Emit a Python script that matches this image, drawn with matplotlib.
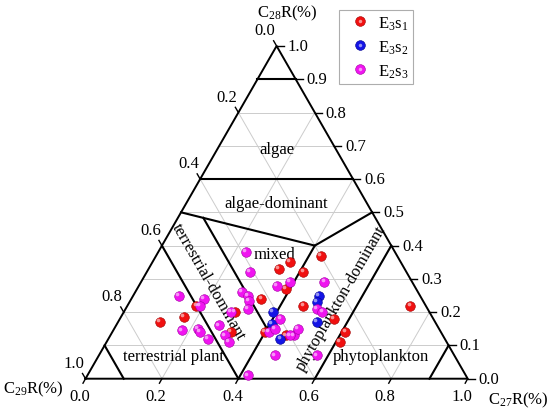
import numpy as np
import matplotlib.pyplot as plt
from matplotlib.lines import Line2D
from matplotlib.legend_handler import HandlerTuple
import matplotlib.transforms as mtransforms

plt.rcParams['font.family'] = ['Liberation Serif', 'DejaVu Serif']
plt.rcParams['mathtext.fontset'] = 'custom'
plt.rcParams['mathtext.rm'] = 'Liberation Serif'
plt.rcParams['mathtext.it'] = 'Liberation Serif:italic'

# sample compositions as fractions (C27, C28); C29 is the remainder
e3s1_c27 = [0.11, 0.165, 0.18, 0.29, 0.31, 0.34, 0.40, 0.36, 0.34, 0.41,
            0.39, 0.46, 0.46, 0.43, 0.56, 0.61, 0.61, 0.74]
e3s1_c28 = [0.17, 0.186, 0.22, 0.20, 0.14, 0.24, 0.14, 0.35, 0.33, 0.32,
            0.27, 0.22, 0.13, 0.37, 0.18, 0.14, 0.11, 0.22]

e3s2_c27 = [0.39, 0.405, 0.45, 0.485, 0.49, 0.52]
e3s2_c28 = [0.20, 0.164, 0.12, 0.25, 0.23, 0.17]

e2s3_c27 = [0.23, 0.27, 0.36, 0.39, 0.12, 0.19, 0.19, 0.28, 0.30, 0.31,
            0.32, 0.28, 0.18, 0.22, 0.23, 0.27, 0.26, 0.30, 0.32, 0.42,
            0.46, 0.41, 0.42, 0.42, 0.48, 0.47, 0.48, 0.48, 0.50, 0.52, 0.57]
e2s3_c28 = [0.38, 0.32, 0.28, 0.29, 0.25, 0.24, 0.22, 0.26, 0.25, 0.235,
            0.21, 0.20, 0.145, 0.15, 0.14, 0.16, 0.12, 0.13, 0.11, 0.01,
            0.07, 0.14, 0.15, 0.18, 0.13, 0.13, 0.15, 0.29, 0.21, 0.20, 0.07]

region_names = ['algae', 'algae-dominant', 'mixed', 'terrestrial-dominant',
                'phytoplankton-dominant', 'terrestrial plant', 'phytoplankton']
region_pos = [(0.155, 0.69), (0.234, 0.528), (0.306, 0.375), (0.176, 0.293),
              (0.545, 0.245), (0.195, 0.068), (0.739, 0.068)]
region_rot = [0, 0, 0, -60, 60, 0, 0]

H = np.sqrt(3) / 2
SX, SY = 382.2, 384.2  # pixels per data unit


def tern(c27, c28):
    c27 = np.asarray(c27, float)
    c28 = np.asarray(c28, float)
    return c27 + c28 / 2, c28 * H


def px(dx, dy):
    return dx / SX, dy / SY


fig = plt.figure(figsize=(5.5, 4.14), dpi=100)
ax = fig.add_axes([0, 0, 1, 1])
ax.set_xlim(-85.5 / SX, (550 - 85.5) / SX)
ax.set_ylim(-34.3 / SY, (414 - 34.3) / SY)
ax.axis('off')

grid_kw = dict(color='#cccccc', lw=0.7, zorder=1)
for v in np.arange(1, 10) / 10:
    x, y = tern([0, 1 - v], [v, v])
    ax.plot(x, y, **grid_kw)
for v in [0.2, 0.4, 0.6, 0.8]:
    x, y = tern([v, v], [0, 1 - v])
    ax.plot(x, y, **grid_kw)
    x, y = tern([1 - v, 0], [0, 1 - v])
    ax.plot(x, y, **grid_kw)

# triangle outline
x, y = tern([0, 1, 0, 0], [0, 0, 1, 0])
ax.plot(x, y, color='black', lw=1.4, zorder=3)

# region boundaries
bounds = [
    ([0, 0.1], [0.9, 0.9]),
    ([0, 0.4], [0.6, 0.6]),
    ([0, 0.4, 0.5], [0.5, 0.4, 0.5]),
    ([0.0667, 0.4], [0.4833, 0.15]),
    ([0.4, 0.4], [0.4, 0.0]),
    ([0, 0.4], [0.4, 0.0]),
    ([0.6, 0.6], [0.0, 0.4]),
    ([0, 0.1], [0.1, 0.0]),
    ([0.9, 0.9], [0.0, 0.1]),
]
for c27, c28 in bounds:
    x, y = tern(c27, c28)
    ax.plot(x, y, color='black', lw=1.5, zorder=3)

# ticks and tick labels
tk = dict(color='black', lw=1.0, zorder=3)
lab = dict(fontsize=12, zorder=4)
for v in np.arange(0, 6) / 5:
    # bottom axis (C27)
    x0, y0 = tern(v, 0)
    dx, dy = px(-2.5, -4.5)
    ax.plot([x0, x0 + dx], [y0, y0 + dy], **tk)
    ox, oy = px(-6, -17.5)
    ax.text(x0 + ox, y0 + oy, f'{v:.1f}', ha='center', va='center', **lab)
    # left axis (C29)
    x0, y0 = tern(0, 1 - v)
    dx, dy = px(-3, 5.2)
    ax.plot([x0, x0 + dx], [y0, y0 + dy], **tk)
    ox, oy = px(-11.5, 16)
    ax.text(x0 + ox, y0 + oy, f'{v:.1f}', ha='center', va='center', **lab)
for v in np.arange(0, 11) / 10:
    # right axis (C28)
    x0, y0 = tern(1 - v, v)
    dx, dy = px(7, 0)
    ax.plot([x0, x0 + dx], [y0, y0], **tk)
    ox, oy = px(11, 0)
    ax.text(x0 + ox, y0, f'{v:.1f}', ha='left', va='center', **lab)

# region labels
for name, (c27, c28), rot in zip(region_names, region_pos, region_rot):
    x, y = tern(c27, c28)
    ax.text(x, y, name, ha='center', va='center', rotation=rot,
            rotation_mode='anchor', fontsize=12, zorder=4)

# axis titles
fig.text(287 / 550, 1 - 13 / 414, r'C$_{\mathrm{28}}$R(%)', ha='center', va='center', fontsize=12)
fig.text(33 / 550, 1 - 389 / 414, r'C$_{\mathrm{29}}$R(%)', ha='center', va='center', fontsize=12)
fig.text(518 / 550, 1 - 400 / 414, r'C$_{\mathrm{27}}$R(%)', ha='center', va='center', fontsize=12)

# samples, drawn as shaded balls
hl = mtransforms.offset_copy(ax.transData, fig=fig, x=-1.3, y=1.3, units='points')
series = [
    (e3s1_c27, e3s1_c28, '#f01010', '#a00000', r'$\mathrm{E_3s_1}$'),
    (e3s2_c27, e3s2_c28, '#1414e6', '#00008c', r'$\mathrm{E_3s_2}$'),
    (e2s3_c27, e2s3_c28, '#f014f0', '#a000a0', r'$\mathrm{E_2s_3}$'),
]
handles, labels = [], []
for c27, c28, col, edge, name in series:
    x, y = tern(c27, c28)
    ax.scatter(x, y, s=48, color=col, edgecolor=edge, linewidth=0.4, zorder=5)
    ax.scatter(x, y, s=7, color='white', alpha=0.55, linewidth=0, zorder=6, transform=hl)
    h1 = Line2D([], [], ls='none', marker='o', ms=7, mfc=col, mec=edge, mew=0.4)
    h2 = Line2D([], [], ls='none', marker='o', ms=2.5, mfc='white', mec='none', alpha=0.55)
    handles.append((h1, h2))
    labels.append(name)

leg = ax.legend(handles, labels, handler_map={tuple: HandlerTuple(ndivide=1)},
                loc='upper left', bbox_to_anchor=(339 / 550, 1 - 11 / 414),
                bbox_transform=fig.transFigure, frameon=True, fancybox=False,
                edgecolor='#999999', fontsize=12, borderpad=0.25, handlelength=2.0,
                handletextpad=0.1, labelspacing=0.4, borderaxespad=0)
leg.get_frame().set_linewidth(0.8)
leg.set_zorder(7)

plt.savefig('out.png', dpi=100)
